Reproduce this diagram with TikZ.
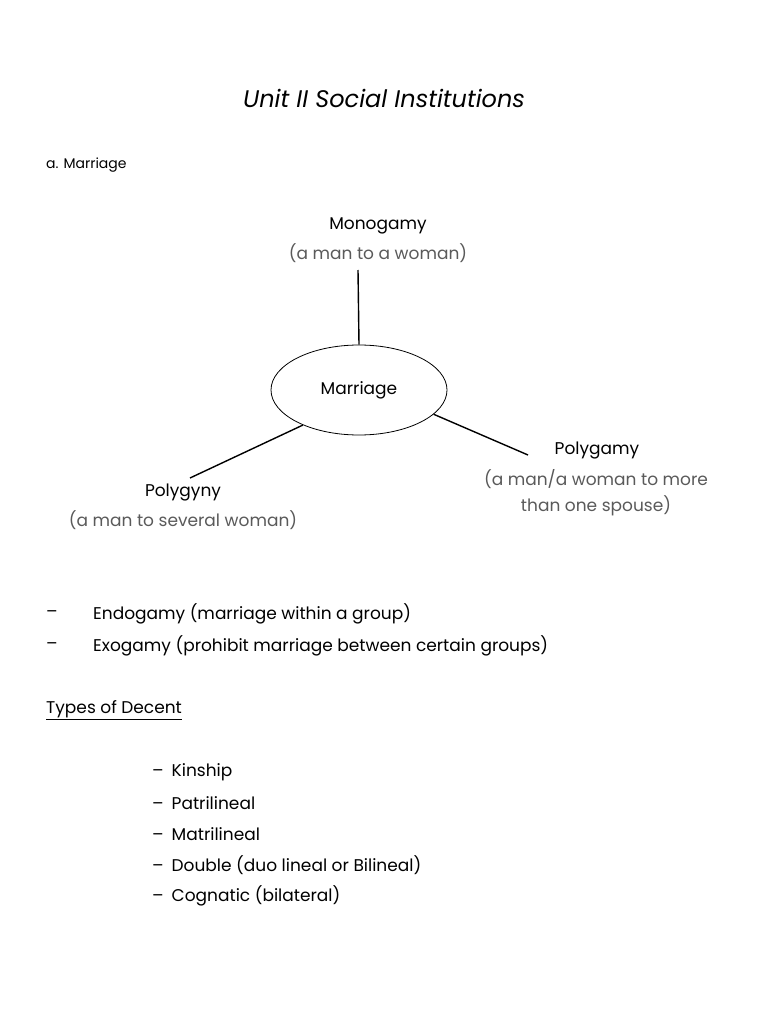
\documentclass[tikz,border=0pt]{standalone}
\usepackage{fontspec}
\setmainfont{Poppins}
\usetikzlibrary{shapes.geometric}
\definecolor{graytxt}{HTML}{5A5A5A}
\begin{document}
\begin{tikzpicture}[x=1pt,y=-1pt,
  txt/.style={font=\fontsize{17}{20}\selectfont,inner sep=0pt},
  sub/.style={txt,text=graytxt},
  lft/.style={txt,anchor=west},
  conn/.style={line width=1.4pt}]
\useasboundingbox[fill=white] (0,0) rectangle (768,1024);
\node[font=\fontsize{24}{28}\selectfont\itshape] (title) at (384,98) {Unit II Social Institutions};
\node[lft,font=\fontsize{14}{17}\selectfont] (amar) at (46,165) {a. Marriage};
\node[txt] (mono) at (378,226) {Monogamy};
\node[sub] (monos) at (378,253) {(a man to a woman)};
\node[ellipse,draw,line width=0.8pt,minimum width=176pt,minimum height=90pt,txt] (mar) at (359,390) {Marriage};
\coordinate (m1) at (358,270);
\draw[conn] (m1) -- (mar.north);
\node[txt] (polya) at (597,451) {Polygamy};
\node[sub] (polyas) at (596,479) {(a man/a woman to more};
\node[sub] (polyas2) at (596,506) {than one spouse)};
\coordinate (pa) at (528,455);
\draw[conn] (mar.-18) -- (pa);
\node[txt] (polyg) at (183,493) {Polygyny};
\node[sub] (polygs) at (183,520) {(a man to several woman)};
\coordinate (pg) at (190,478);
\draw[conn] (mar.-148) -- (pg);
\node[lft] (d1) at (46,614) {–};
\node[lft] (e1) at (93,614) {Endogamy (marriage within a group)};
\node[lft] (d2) at (46,646) {–};
\node[lft] (e2) at (93,646) {Exogamy (prohibit marriage between certain groups)};
\node[lft] (types) at (46,710) {\underline{Types of Decent}};
\foreach \t [count=\i] in {Kinship,Patrilineal,Matrilineal,Double (duo lineal or Bilineal),Cognatic (bilateral)}{
  \node[lft] (k\i) at (152,{741+31*\i}) {–\hspace{8pt}\t};
}
\end{tikzpicture}
\end{document}
